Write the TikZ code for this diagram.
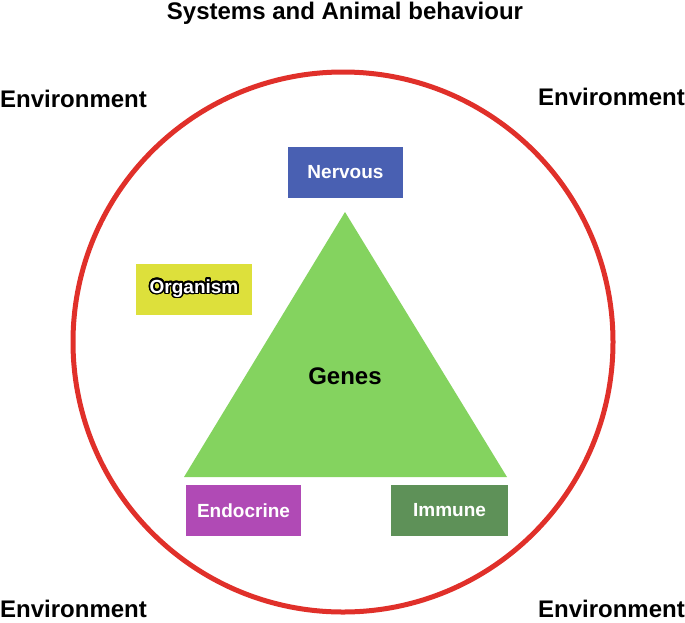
\documentclass[tikz,border=0pt]{standalone}
\usepackage{fontspec}
\setmainfont{Liberation Sans}
\usepackage[copies]{contour}
\contourlength{1.6pt}
\contournumber{24}
\definecolor{ringred}{RGB}{224,48,42}
\definecolor{nervblue}{RGB}{73,96,178}
\definecolor{orgyellow}{RGB}{221,224,59}
\definecolor{genegreen}{RGB}{132,211,95}
\definecolor{endopurple}{RGB}{176,74,181}
\definecolor{immgreen}{RGB}{94,145,88}

\begin{document}
\begin{tikzpicture}[x=1pt, y=-1pt,
    every node/.style={font=\bfseries\fontsize{19}{22}\selectfont},
    envlabel/.style={font=\bfseries\fontsize{24}{28}\selectfont, inner sep=0pt},
    sysbox/.style={minimum width=115pt, minimum height=51pt, inner sep=0pt, text=white}]
    \useasboundingbox (0,0) rectangle (685,622);
    % title and surroundings
    \node[envlabel] (title) at (345,13) {Systems and Animal behaviour};
    \node[envlabel, anchor=west] (envtl) at (0,99) {Environment};
    \node[envlabel, anchor=east] (envtr) at (685,97) {Environment};
    \node[envlabel, anchor=west] (envbl) at (0,609) {Environment};
    \node[envlabel, anchor=east] (envbr) at (685,609) {Environment};
    \draw[ringred, line width=5pt] (343,342) circle (270);
    % genes triangle
    \coordinate (apex) at (345,212);
    \coordinate (bl) at (184,477);
    \coordinate (br) at (507,477);
    \fill[genegreen] (apex) -- (bl) -- (br) -- cycle;
    \node[font=\bfseries\fontsize{24}{28}\selectfont] (genes) at (345,376) {Genes};
    % systems
    \node[sysbox, fill=nervblue] (nervous) at (345.5,172.5) {Nervous};
    \node[sysbox, fill=orgyellow, minimum width=116pt] (organism) at (194,289) {\contour{black}{Organism}};
    \node[sysbox, fill=endopurple] (endocrine) at (243.5,510.5) {Endocrine};
    \node[sysbox, fill=immgreen, minimum width=117pt] (immune) at (449.5,510.5) {Immune};
\end{tikzpicture}
\end{document}
